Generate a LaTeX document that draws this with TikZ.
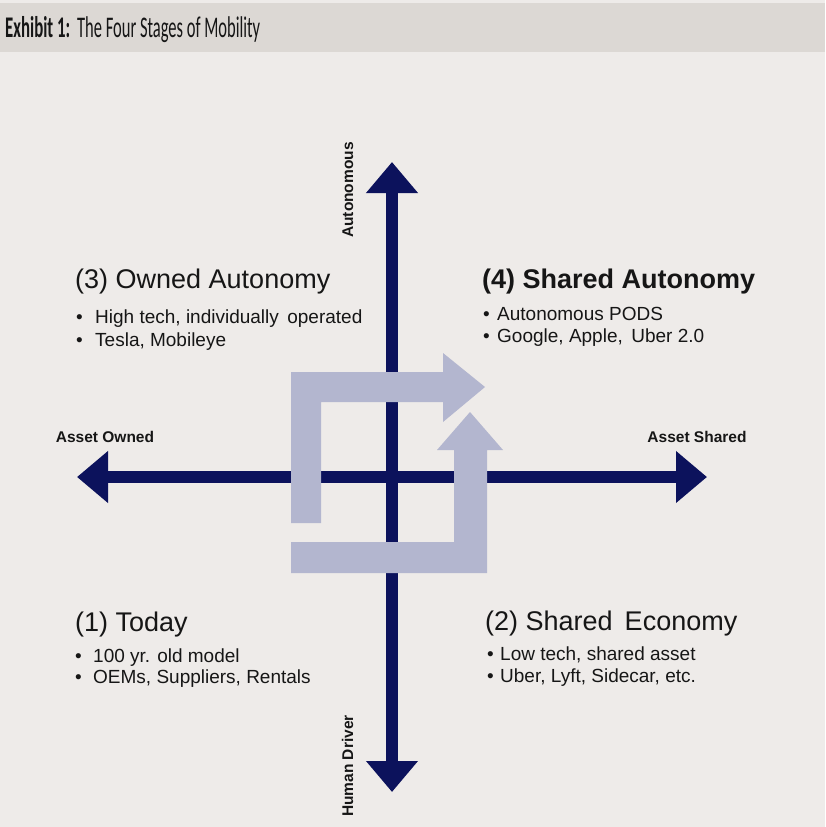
\documentclass[tikz,border=0pt]{standalone}
\usepackage{graphicx}
\usepackage{fontspec}
\setmainfont{Liberation Sans}
\newfontfamily\headfont{Carlito}
\usetikzlibrary{arrows.meta}
\definecolor{navy}{RGB}{12,18,92}
\definecolor{stagegray}{RGB}{179,182,207}
\definecolor{paper}{RGB}{238,235,233}
\definecolor{band}{RGB}{220,216,212}
\definecolor{ink}{RGB}{22,22,22}
\newcommand{\bul}[1]{\makebox[#1][l]{•}}

\begin{document}
\begin{tikzpicture}[x=1pt, y=-1pt, every node/.style={inner sep=0pt, text=ink, anchor=base west},
	axis/.style={draw=navy, line width=12.5pt, {Triangle[length=31pt,width=50pt]}-{Triangle[length=31pt,width=50pt]}},
	stage/.style={fill=stagegray},
	axislabel/.style={font=\bfseries\fontsize{15.5}{18}\selectfont, anchor=base},
	heading/.style={font=\fontsize{27}{32}\selectfont},
	item/.style={font=\fontsize{19}{23}\selectfont}]
			\fill[paper] (0,0) rectangle (825,827);
			\useasboundingbox (0,0) rectangle (825,827);
			\fill[band] (0,3) rectangle (825,52);
			\node[font=\headfont\fontsize{30}{34}\selectfont] (exhibit) at (5,37) {\scalebox{0.56}[1]{\bfseries Exhibit 1:}};
			\node[font=\headfont\fontsize{30}{34}\selectfont] (caption) at (77,37) {\scalebox{0.55}[1]{The Four Stages of Mobility}};
			
			\coordinate (owned) at (77,477);
			\coordinate (shared) at (707,477);
			\coordinate (auto) at (392,162);
			\coordinate (human) at (392,792);
			\draw[axis] (owned) -- (shared);
			\draw[axis] (human) -- (auto);
			
			\path[stage] (291,523) -- (291,372) -- (443,372) -- (443,353) -- (485,387) -- (443,422) -- (443,402) -- (321,402) -- (321,523) -- cycle;
			\path[stage] (291,542) -- (454,542) -- (454,450) -- (437,450) -- (470,412) -- (503,450) -- (487,450) -- (487,573) -- (291,573) -- cycle;
			
			\node[axislabel] (ownedtext) at (105,442) {Asset Owned};
			\node[axislabel] (sharedtext) at (697,442) {Asset Shared};
			\node[axislabel, rotate=90] (autotext) at (353,190) {Autonomous};
			\node[axislabel, rotate=90] (humantext) at (353,766) {Human Driver};
			
			\node[heading] (q3) at (75,288) {(3) Owned Autonomy};
			\node[item] (q3a) at (76,323) {\bul{19pt}High tech, individually\, operated};
			\node[item] (q3b) at (76,346) {\bul{19pt}Tesla, Mobileye};
			
			\node[heading, font=\bfseries\fontsize{27}{32}\selectfont] (q4) at (482,288) {(4) Shared Autonomy};
			\node[item] (q4a) at (483,320) {\bul{14pt}Autonomous PODS};
			\node[item] (q4b) at (483,342) {\bul{14pt}Google, Apple,\, Uber 2.0};
			
			\node[heading] (q1) at (75,631) {(1) Today};
			\node[item] (q1a) at (75,662) {\bul{18pt}100 yr. old model};
			\node[item] (q1b) at (75,683) {\bul{18pt}OEMs, Suppliers, Rentals};
			
			\node[heading] (q2) at (485,630) {(2) Shared\, Economy};
			\node[item] (q2a) at (487,660) {\bul{13pt}Low tech, shared asset};
			\node[item] (q2b) at (487,682) {\bul{13pt}Uber, Lyft, Sidecar, etc.};
			\end{tikzpicture}
\end{document}
